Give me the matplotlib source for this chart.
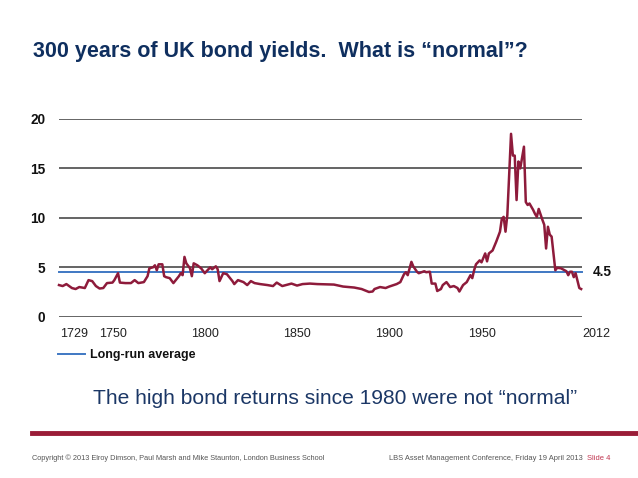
import matplotlib
matplotlib.use("Agg")
import matplotlib.pyplot as plt
import matplotlib.transforms as mtransforms
from matplotlib.lines import Line2D

plt.rcParams['font.family'] = ['Liberation Sans', 'DejaVu Sans']

# ---- data ----
years = [1729, 1731, 1733, 1736, 1738, 1740, 1743, 1745, 1747, 1749, 1751, 1753,
         1755, 1758, 1759, 1761, 1762, 1765, 1768, 1770, 1772, 1775, 1777, 1778,
         1780, 1781, 1782, 1783, 1785, 1786, 1787, 1789, 1791, 1794, 1795, 1796,
         1797, 1798, 1800, 1801, 1802, 1804, 1806, 1808, 1811, 1812, 1814, 1815,
         1816, 1818, 1820, 1823, 1824, 1826, 1829, 1831, 1833, 1835, 1838, 1842,
         1845, 1847, 1850, 1852, 1855, 1858, 1861, 1865, 1869, 1878, 1883, 1889,
         1893, 1897, 1899, 1900, 1903, 1906, 1908, 1912, 1914, 1916, 1917, 1918,
         1920, 1921, 1923, 1924, 1927, 1928, 1930, 1931, 1933, 1934, 1936, 1937,
         1939, 1941, 1943, 1945, 1946, 1948, 1950, 1952, 1953, 1954, 1955, 1957,
         1958, 1960, 1961, 1962, 1964, 1966, 1968, 1969, 1970, 1971, 1972, 1974,
         1975, 1976, 1977, 1978, 1979, 1981, 1982, 1983, 1984, 1986, 1987, 1988,
         1989, 1991, 1992, 1993, 1994, 1995, 1996, 1998, 1999, 2001, 2003, 2004,
         2005, 2006, 2007, 2008, 2009, 2011, 2012]
yields = [3.2, 3.1, 3.3, 2.9, 2.8, 3.0, 2.9, 3.7, 3.6, 3.1, 2.85, 2.9,
          3.4, 3.45, 3.7, 4.4, 3.45, 3.4, 3.4, 3.7, 3.4, 3.5, 4.1, 4.9,
          5.0, 5.2, 4.7, 5.3, 5.3, 4.1, 4.0, 3.9, 3.4, 4.1, 4.4, 4.2,
          6.05, 5.4, 4.9, 4.1, 5.4, 5.2, 4.9, 4.4, 5.0, 4.8, 5.1, 4.8,
          3.6, 4.4, 4.3, 3.6, 3.3, 3.7, 3.5, 3.2, 3.6, 3.4, 3.3, 3.2,
          3.1, 3.45, 3.1, 3.2, 3.35, 3.15, 3.3, 3.35, 3.3, 3.25, 3.05, 2.95,
          2.8, 2.5, 2.55, 2.8, 3.0, 2.9, 3.05, 3.3, 3.5, 4.3, 4.5, 4.2,
          5.55, 5.1, 4.55, 4.4, 4.6, 4.5, 4.55, 3.35, 3.35, 2.6, 2.8, 3.2,
          3.5, 3.0, 3.1, 2.9, 2.55, 3.2, 3.5, 4.2, 3.9, 4.7, 5.3, 5.7,
          5.5, 6.4, 5.6, 6.4, 6.7, 7.6, 8.6, 9.9, 10.1, 8.6, 10.3, 18.5,
          16.3, 16.3, 11.8, 15.7, 15.0, 17.2, 11.6, 11.3, 11.45, 10.8, 10.4, 10.1,
          10.9, 9.8, 9.3, 6.9, 9.1, 8.3, 8.1, 4.7, 4.95, 4.9, 4.7, 4.6,
          4.2, 4.55, 4.55, 4.0, 4.4, 2.9, 2.8]
long_run_average = 4.5
x_ticks = [1729, 1750, 1800, 1850, 1900, 1950, 2012]
y_ticks = [0, 5, 10, 15, 20]

title = "300 years of UK bond yields.  What is \u201cnormal\u201d?"
subtitle = "The high bond returns since 1980 were not \u201cnormal\u201d"
legend_label = "Long-run average"
footer_left = "Copyright \u00a9 2013 Elroy Dimson, Paul Marsh and Mike Staunton, London Business School"
footer_right = "LBS Asset Management Conference, Friday 19 April 2013"
footer_slide = "Slide 4"

RED = "#8e1b3b"
BLUE = "#3f78c3"
NAVY = "#0f2f5f"
GRID = "#3a3a3a"

W, H = 638, 478
fig = plt.figure(figsize=(W / 100, H / 100), dpi=100)
fig.patch.set_facecolor("white")

# axes placed in pixel geometry
left, right = 59, 581.7
top, bottom = 119, 316.7
ax = fig.add_axes([left / W, 1 - bottom / H, (right - left) / W, (bottom - top) / H])
ax.set_facecolor("none")

ax.set_xlim(1729, 2012.3)
ax.set_ylim(0, 20)
ax.set_yticks(y_ticks)
ax.set_xticks(x_ticks)
ax.set_xticklabels([str(t) for t in x_ticks])
for s in ax.spines.values():
    s.set_visible(False)
ax.grid(axis="y", color=GRID, linewidth=1.1, zorder=0)
ax.grid(axis="x", visible=False)
ax.tick_params(axis="both", length=0)
ax.tick_params(axis="y", pad=10, labelsize=9.8, labelcolor="#111111")
ax.tick_params(axis="x", pad=8, labelsize=9, labelcolor="#222222")
for lab in ax.get_yticklabels():
    lab.set_fontweight("bold")
shift = mtransforms.ScaledTranslation(0.15, 0, fig.dpi_scale_trans)
for lab in ax.get_xticklabels():
    lab.set_transform(lab.get_transform() + shift)

# long-run average
ax.axhline(long_run_average, color=BLUE, linewidth=1.4, zorder=2, clip_on=False)
ax.annotate(f"{long_run_average}", xy=(1, long_run_average), xycoords=("axes fraction", "data"),
            xytext=(8, 0), textcoords="offset points", ha="left", va="center",
            fontsize=9.8, fontweight="bold", color="#111111")

# yields
ax.plot(years, yields, color=RED, linewidth=1.8, zorder=3, clip_on=False,
        solid_joinstyle="round")

# legend
handle = Line2D([], [], color=BLUE, linewidth=1.4)
fig.legend([handle], [legend_label], loc="center left",
           bbox_to_anchor=(47 / W, 1 - 355 / H), frameon=False,
           handlelength=2.1, handletextpad=0.4,
           prop={"size": 9, "weight": "bold"}, labelcolor="#111111")

# title and subtitle
fig.text(33 / W, 1 - 51 / H, title, ha="left", va="center",
         fontsize=15.5, fontweight="bold", color=NAVY)
fig.text(335 / W, 1 - 398 / H, subtitle, ha="center", va="center",
         fontsize=15.1, color="#1b3766")

# footer
fig.add_artist(Line2D([32 / W, 1.0], [1 - 433 / H, 1 - 433 / H],
                      transform=fig.transFigure, color="#9a1c37", linewidth=3.5))
fig.text(32 / W, 1 - 458 / H, footer_left, ha="left", va="center",
         fontsize=5.3, color="#555555")
fig.text(583 / W, 1 - 458 / H, footer_right, ha="right", va="center",
         fontsize=5.4, color="#555555")
fig.text(587 / W, 1 - 458 / H, footer_slide, ha="left", va="center",
         fontsize=5.4, color="#c0344f")

fig.savefig("out.png", dpi=100, facecolor="white")
